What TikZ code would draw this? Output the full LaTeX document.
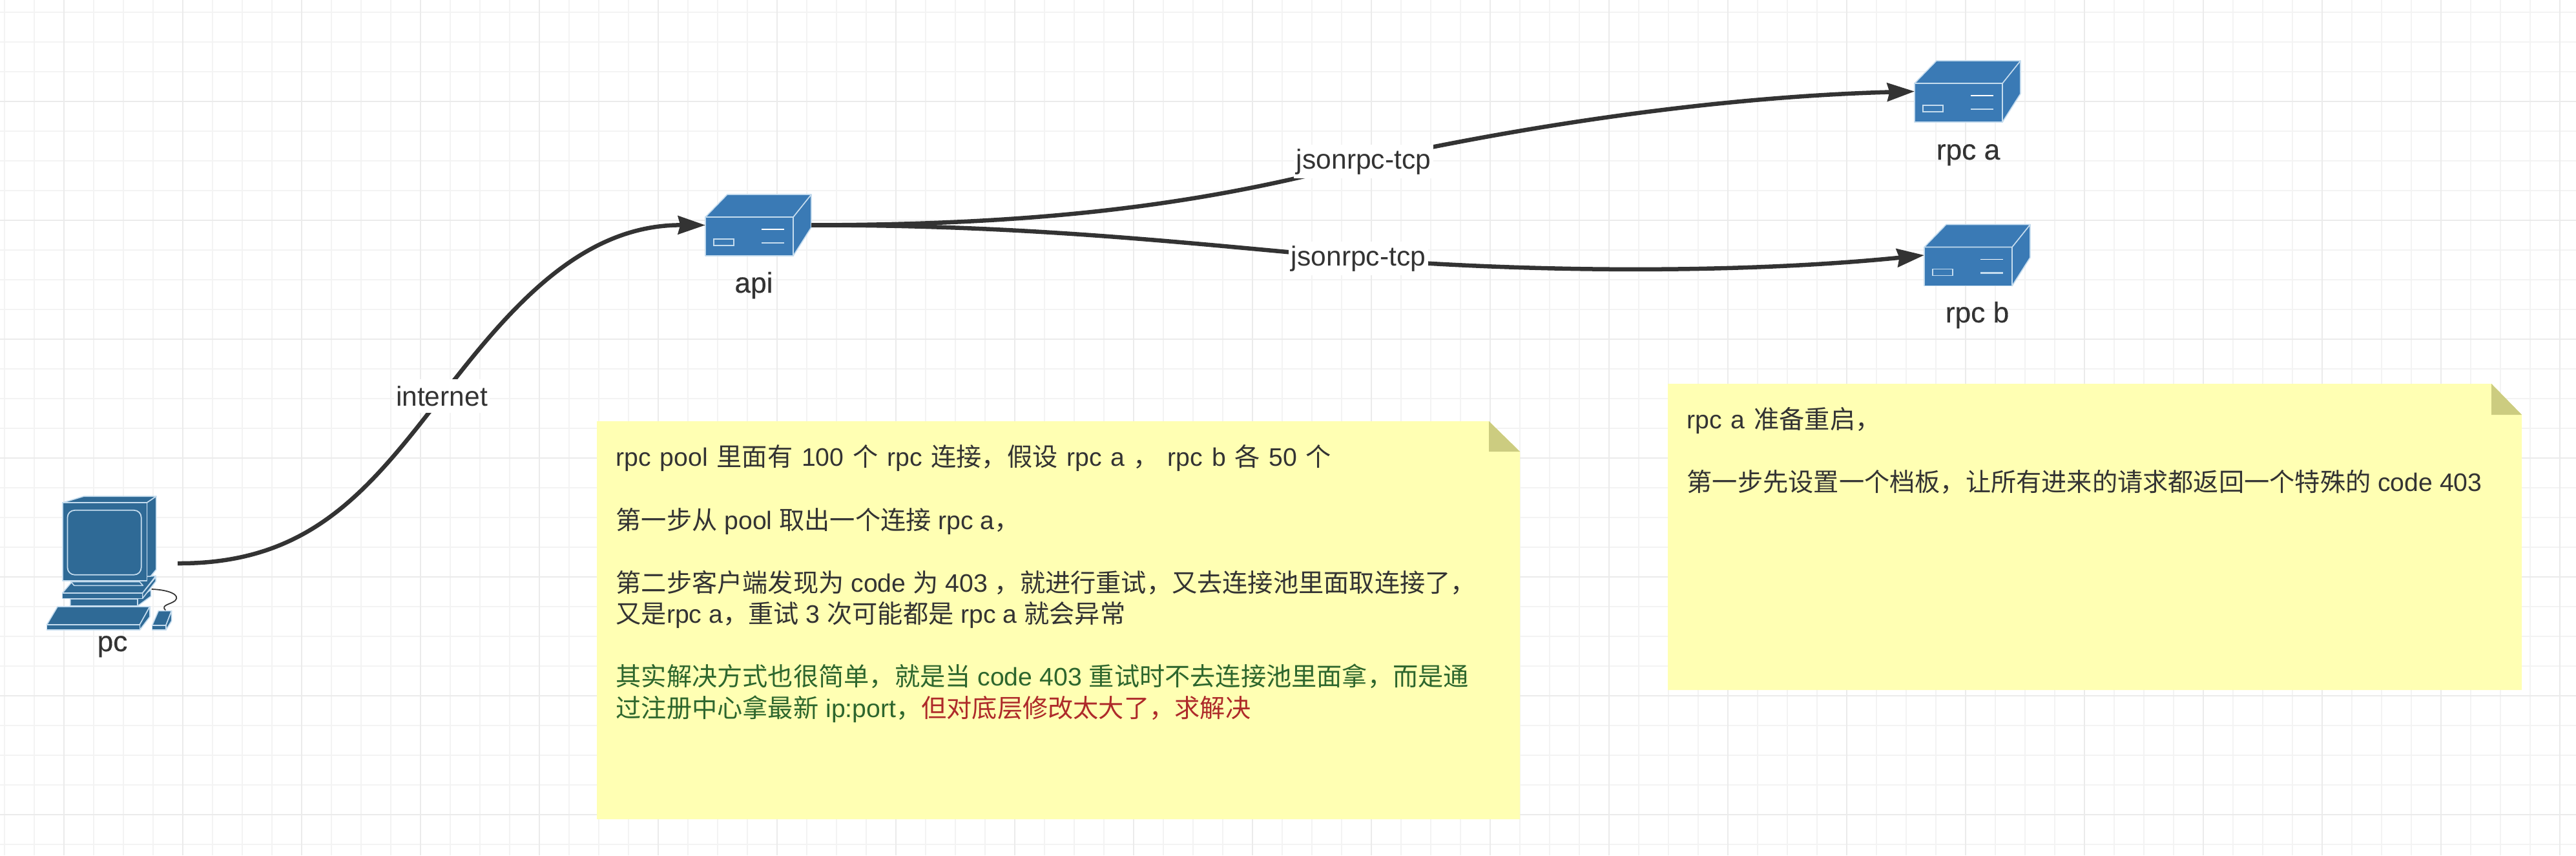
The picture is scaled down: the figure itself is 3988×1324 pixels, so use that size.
\documentclass[tikz,border=0pt]{standalone}
\usepackage{fontspec}
\setmainfont{Liberation Sans}
\newfontfamily\cjk{Noto Sans CJK SC}
\newfontfamily\medsans[FakeBold=0.35]{Liberation Sans}
\usetikzlibrary{arrows.meta}

\definecolor{inkdark}{HTML}{333333}
\definecolor{gridminor}{HTML}{F3F3F3}
\definecolor{gridmajor}{HTML}{EBEBEB}
\definecolor{serverblue}{HTML}{3A7AB5}
\definecolor{pcblue}{HTML}{2F6A96}
\definecolor{edgelight}{HTML}{C5DCEE}
\definecolor{notefill}{HTML}{FFFFB3}
\definecolor{notefold}{HTML}{CCCC80}
\definecolor{notegreen}{HTML}{2D662D}
\definecolor{notered}{HTML}{AE2A2A}

\newcommand{\zh}[1]{{\cjk #1}}
\newcommand{\notefont}{\fontsize{11.15}{13.8}\selectfont}

\tikzset{
  shapeface/.style={draw=edgelight, line width=0.45pt, line join=round},
  serverbox/.style={minimum width=1.64cm, minimum height=0.95cm, inner sep=0pt, outer sep=0pt},
  hostbox/.style={minimum width=2.02cm, minimum height=2.08cm, inner sep=0pt, outer sep=0pt},
  hostlabel/.style={anchor=base, text=inkdark, inner sep=0pt, font=\medsans\fontsize{12.6}{15}\selectfont},
  flow/.style={draw=inkdark, line width=1.85pt, -{Stealth[length=12pt, width=8pt, inset=1pt]}},
  edgelabel/.style={fill=white, text=inkdark, inner xsep=1pt, inner ysep=0pt, minimum height=0.52cm, font=\fontsize{12.1}{14}\selectfont},
  notetext/.style={anchor=north west, align=left, inner sep=0pt, text=inkdark, font=\notefont},
}

% front, side and top of one server, from the south west corner of its node
\newcommand{\serverdraw}[1]{
  \begin{scope}[shift={(#1.south west)}]
    \fill[serverblue, shapeface] (0,0) -- (136,0) -- (136,-60) -- (0,-60) -- cycle;
    \fill[serverblue, shapeface] (136,0) -- (164,-44) -- (164,-95) -- (136,-60) -- cycle;
    \fill[serverblue, shapeface] (0,-60) -- (34,-95) -- (164,-95) -- (136,-60) -- cycle;
    \draw[edgelight, line width=0.45pt] (13,-16) rectangle (44,-26);
    \draw[white, line width=0.45pt] (87,-41) -- (122,-41);
    \draw[edgelight, line width=0.6pt] (87,-20) -- (122,-20);
  \end{scope}
}

\begin{document}
\begin{tikzpicture}[x=0.01cm, y=-0.01cm]
  \useasboundingbox (0,0) rectangle (3988,1324);
  \fill[white] (0,0) rectangle (3988,1324);

  % grid
  \foreach \x in {7,53,...,3988} \draw[gridminor, line width=0.55pt] (\x,0) -- (\x,1324);
  \foreach \y in {19,65,...,1324} \draw[gridminor, line width=0.55pt] (0,\y) -- (3988,\y);
  \foreach \x in {99,283,...,3988} \draw[gridmajor, line width=0.8pt] (\x,0) -- (\x,1324);
  \foreach \y in {157,341,...,1324} \draw[gridmajor, line width=0.8pt] (0,\y) -- (3988,\y);

  % notes
  \fill[notefill] (924,652) -- (2305,652) -- (2353,699) -- (2353,1268) -- (924,1268) -- cycle;
  \fill[notefold] (2305,652) -- (2353,699) -- (2305,699) -- cycle;
  \fill[notefill] (2582,594) -- (3857,594) -- (3904,642) -- (3904,1068) -- (2582,1068) -- cycle;
  \fill[notefold] (3857,594) -- (3904,642) -- (3857,642) -- cycle;

  \node[notetext] (notepool) at (953,688) {%
    \spaceskip=0.35em
    rpc pool \zh{里面有} 100 \zh{个} rpc \zh{连接，假设} rpc a \zh{，} rpc b \zh{各} 50 \zh{个}\\[13.8pt]
    \zh{第一步从} pool \zh{取出一个连接} rpc a\zh{，}\\[13.8pt]
    \zh{第二步客户端发现为} code \zh{为} 403 \zh{，就进行重试，又去连接池里面取连接了，}\\
    \zh{又是}rpc a\zh{，重试} 3 \zh{次可能都是} rpc a \zh{就会异常}\\[13.8pt]
    \textcolor{notegreen}{\zh{其实解决方式也很简单，就是当} code 403 \zh{重试时不去连接池里面拿，而是通}}\\
    \textcolor{notegreen}{\zh{过注册中心拿最新} ip:port\zh{，}}\textcolor{notered}{\zh{但对底层修改太大了，求解决}}};
  \node[notetext] (noterestart) at (2611,630) {%
    \spaceskip=0.35em
    rpc a \zh{准备重启，}\\[13.8pt]
    \zh{第一步先设置一个档板，让所有进来的请求都返回一个特殊的} code 403};

  % hosts
  \node[hostbox] (pc) at (174,872) {};
  \node[serverbox] (api) at (1174,348.5) {};
  \node[serverbox] (rpca) at (3046,141.5) {};
  \node[serverbox] (rpcb) at (3061,395) {};

  \serverdraw{api}
  \serverdraw{rpca}
  \serverdraw{rpcb}

  \begin{scope}[shift={(0,700)}, x=0.00333cm, y=-0.00333cm]
    \draw[inkdark, line width=0.5pt] (705,637) .. controls (790,640) and (840,665) .. (815,690) .. controls (795,708) and (745,710) .. (770,735);
    \fill[pcblue, shapeface] (291,235) -- (390,205) -- (727,205) -- (683,235) -- cycle;
    \fill[pcblue, shapeface] (683,235) -- (727,205) -- (727,545) -- (683,598) -- cycle;
    \fill[pcblue, shapeface] (327,682) -- (640,682) -- (702,640) -- (702,670) -- (640,715) -- (327,715) -- cycle;
    \draw[edgelight, line width=0.45pt] (640,682) -- (640,715);
    \fill[pcblue, shapeface] (290,655) -- (333,605) -- (725,575) -- (663,655) -- cycle;
    \fill[pcblue, shapeface] (663,655) -- (725,580) -- (725,600) -- (663,680) -- cycle;
    \fill[pcblue, shapeface] (290,655) rectangle (663,680);
    \fill[pcblue, shapeface] (330,603) -- (345,620) -- (665,620) -- (650,603) -- cycle;
    \fill[pcblue, shapeface] (291,235) rectangle (683,598);
    \draw[edgelight, line width=0.5pt, rounded corners=0.11cm] (314,270) rectangle (657,570);
    \fill[pcblue, shapeface] (218,802) -- (268,718) -- (697,718) -- (650,802) -- cycle;
    \fill[pcblue, shapeface] (650,802) -- (697,718) -- (697,765) -- (650,827) -- cycle;
    \fill[pcblue, shapeface] (218,802) rectangle (650,827);
    \fill[pcblue, shapeface] (708,805) -- (737,738) -- (798,738) -- (772,805) -- cycle;
    \fill[pcblue, shapeface] (772,805) -- (798,738) -- (798,785) -- (772,827) -- cycle;
    \fill[pcblue, shapeface] (708,805) rectangle (772,827);
  \end{scope}

  \node[hostlabel] (pclabel) at (174,1008) {pc};
  \node[hostlabel] (apilabel) at (1167,453) {api};
  \node[hostlabel] (rpcalabel) at (3047,247) {rpc a};
  \node[hostlabel] (rpcblabel) at (3061,499) {rpc b};

  % connectors
  \draw[flow] (pc.east) .. controls (480,873) and (570,760) .. (684,613) node[edgelabel] (internet) {internet}
    .. controls (790,475) and (900,348) .. (api.west);
  \draw[flow] (api.east) .. controls (1600,348) and (1850,320) .. (2111,250) node[edgelabel] (jsona) {jsonrpc-tcp}
    .. controls (2350,197) and (2650,150) .. (rpca.west);
  \draw[flow] (api.east) .. controls (1600,348) and (1850,378) .. (2103,400) node[edgelabel] (jsonb) {jsonrpc-tcp}
    .. controls (2300,417) and (2650,428) .. (rpcb.west);
\end{tikzpicture}
\end{document}
